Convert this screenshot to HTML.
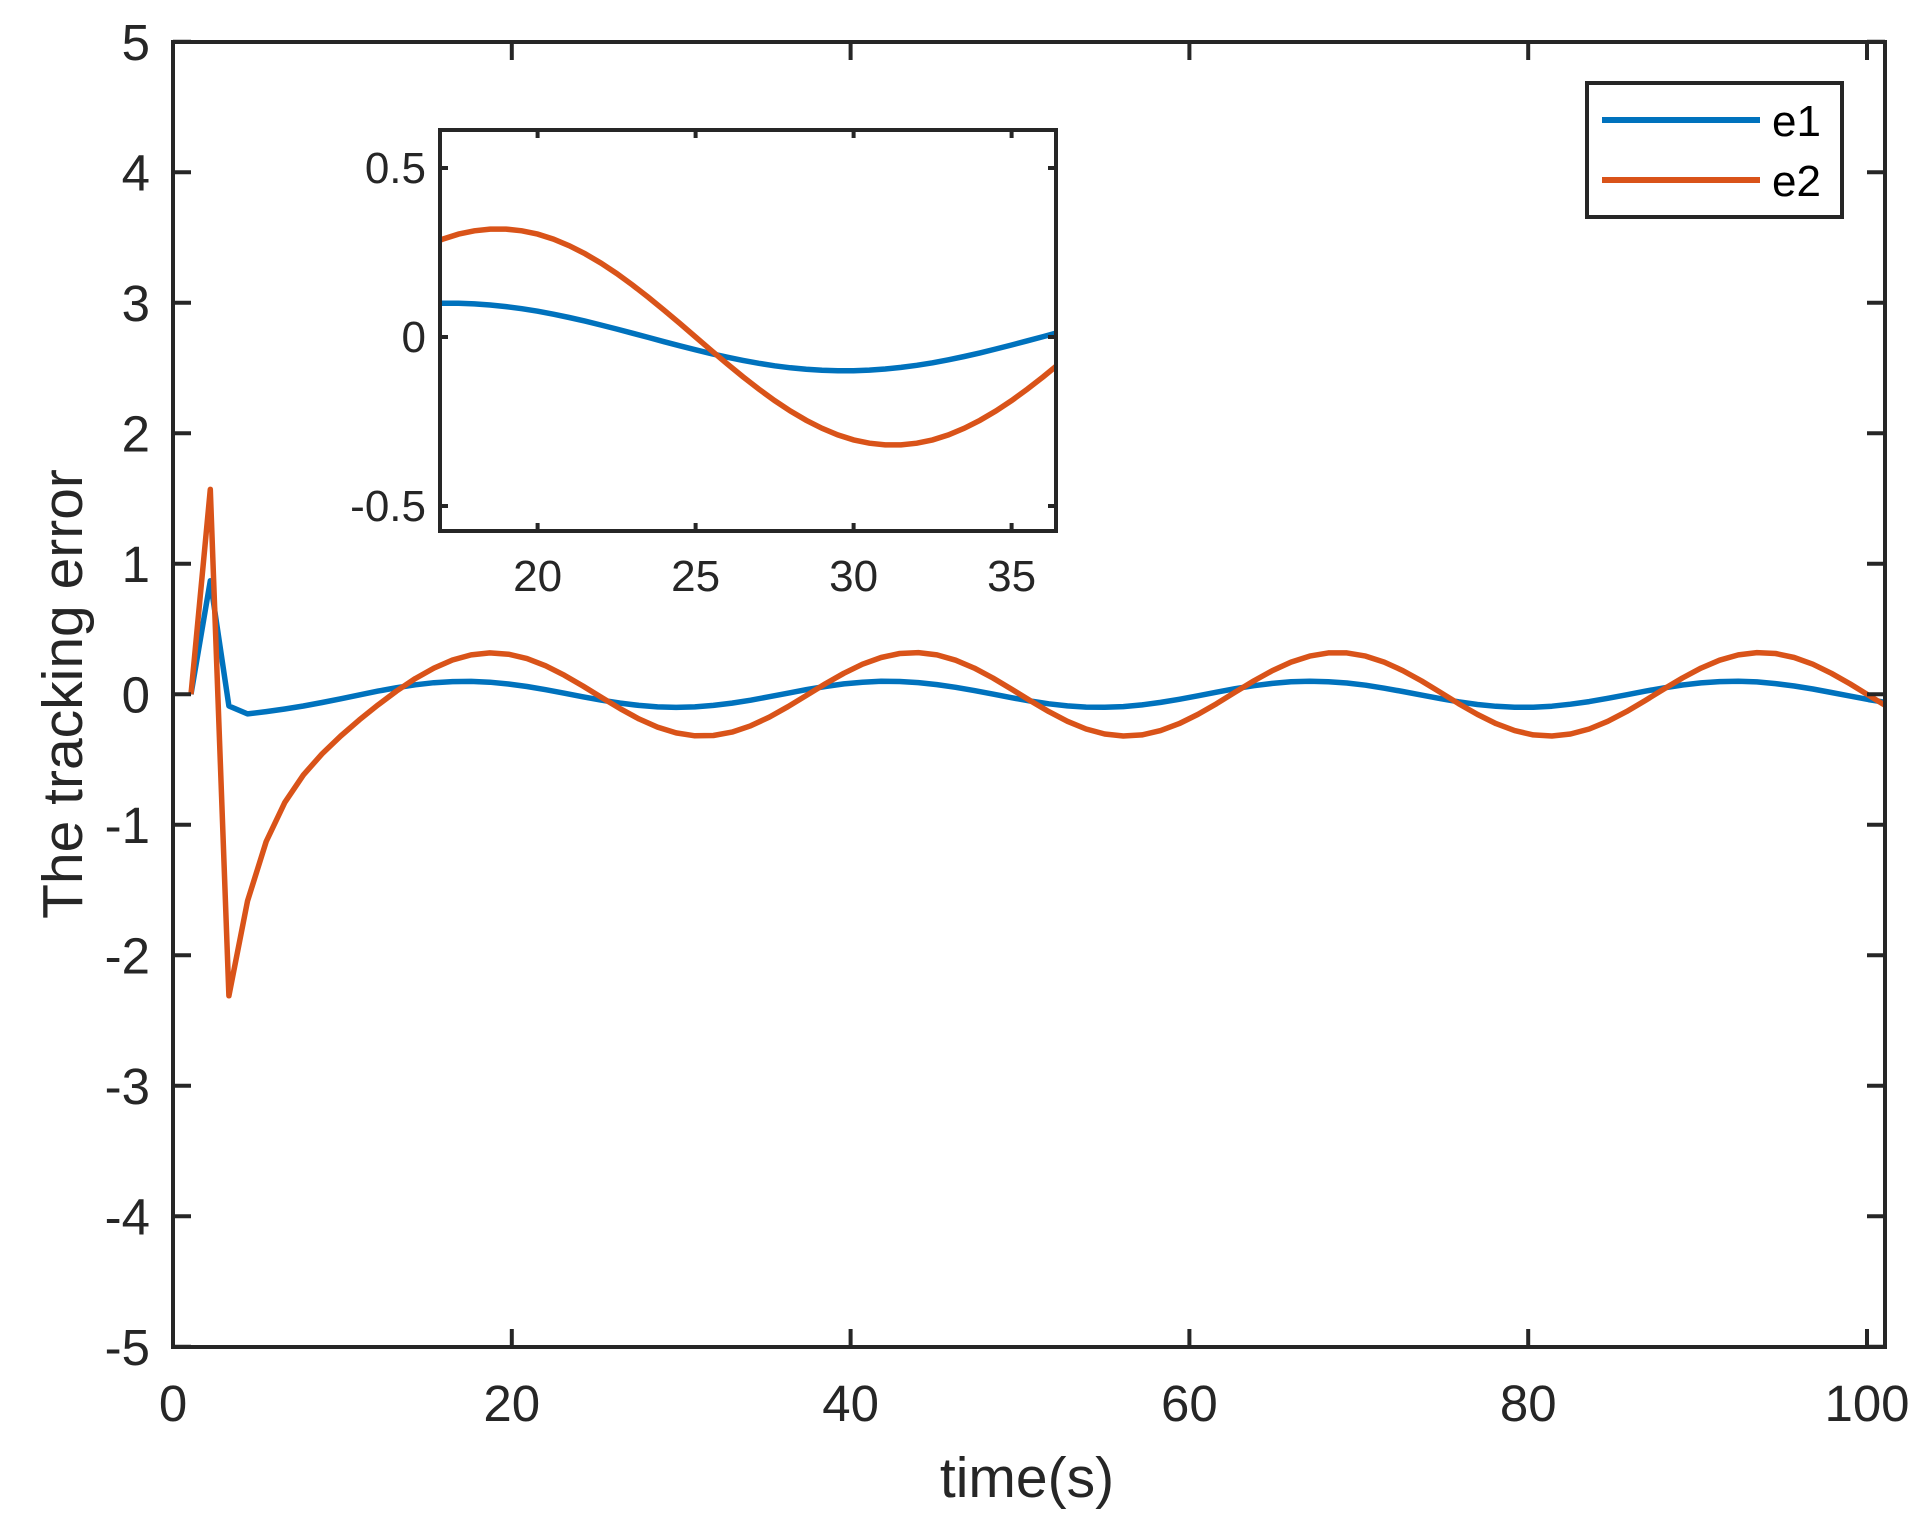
<!DOCTYPE html>
<html><head><meta charset="utf-8"><style>
html,body{margin:0;padding:0;background:#fff;}
svg{display:block;font-family:"Liberation Sans",Arial,sans-serif;}
</style></head><body>
<svg id="s" width="1928" height="1536" viewBox="0 0 1928 1536" xmlns="http://www.w3.org/2000/svg">
<rect width="1928" height="1536" fill="#fff"/>
<defs><clipPath id="mc"><rect x="173" y="42" width="1712" height="1305"/></clipPath>
<clipPath id="ic"><rect x="440" y="130" width="616" height="401"/></clipPath></defs>
</svg>
<script>
var NS="http://www.w3.org/2000/svg",s=document.getElementById('s');
function el(t,a,txt,p){var e=document.createElementNS(NS,t);for(var k in a)e.setAttribute(k,a[k]);if(txt!=null)e.textContent=txt;(p||s).appendChild(e);return e;}
var C="#262626";
function X(t){return 173+16.94*t;} function Y(v){return 694.3-130.5*v;}
function IX(t){return 537.6+31.6*(t-20);} function IY(v){return 337-338*v;}
var P=2*Math.PI/25;
function s1(t){return 0.1*Math.cos(P*(t-17.2));}
function s2(t){return 0.32*Math.cos(P*(t-18.75));}
var e1=[[1.06,0],[2.2,0.87],[3.3,-0.09]],e2=[[1.06,0],[2.2,1.57],[3.3,-2.31]];
for(var t=4.4;t<=101.5;t+=1.1){
 e1.push([t,s1(t)+(-0.15-s1(4.4))*Math.exp(-(t-4.4)/3)]);
 e2.push([t,s2(t)+(-2.31-s2(3.3))*Math.exp(-(t-3.3)/2.35)]);
}
function path(d,fx,fy){return d.map(function(p,i){return (i?'L':'M')+fx(p[0]).toFixed(1)+' '+fy(p[1]).toFixed(1);}).join('');}
var g=el('g',{'clip-path':'url(#mc)'});
el('path',{d:path(e1,X,Y),fill:'none',stroke:'#0072BD','stroke-width':5.5,'stroke-linejoin':'round'},null,g);
el('path',{d:path(e2,X,Y),fill:'none',stroke:'#D95319','stroke-width':5.5,'stroke-linejoin':'round'},null,g);
el('rect',{x:173,y:42,width:1712,height:1305,fill:'none',stroke:C,'stroke-width':4});
for(var v=-5;v<=5;v++){var y=Y(v);
 el('line',{x1:173,y1:y,x2:191,y2:y,stroke:C,'stroke-width':4});
 el('line',{x1:1885,y1:y,x2:1867,y2:y,stroke:C,'stroke-width':4});
 el('text',{x:150,y:y+18,'text-anchor':'end','font-size':51,fill:C},String(v));}
for(var k=0;k<=100;k+=20){var x=X(k);
 el('line',{x1:x,y1:1347,x2:x,y2:1329,stroke:C,'stroke-width':4});
 el('line',{x1:x,y1:42,x2:x,y2:60,stroke:C,'stroke-width':4});
 el('text',{x:x,y:1421,'text-anchor':'middle','font-size':51,fill:C},String(k));}
el('text',{x:1027,y:1497,'text-anchor':'middle','font-size':57,fill:C},'time(s)');
el('text',{x:0,y:0,'text-anchor':'middle','font-size':57,fill:C,transform:'translate(82,694) rotate(-90)'},'The tracking error');
// inset
el('rect',{x:440,y:130,width:616,height:401,fill:'#fff'});
var gi=el('g',{'clip-path':'url(#ic)'});
var i1=[],i2=[];for(var t=16;t<=38;t+=0.5){i1.push([t,s1(t)]);i2.push([t,s2(t)]);}
el('path',{d:path(i1,IX,IY),fill:'none',stroke:'#0072BD','stroke-width':5.5},null,gi);
el('path',{d:path(i2,IX,IY),fill:'none',stroke:'#D95319','stroke-width':5.5},null,gi);
el('rect',{x:440,y:130,width:616,height:401,fill:'none',stroke:C,'stroke-width':4});
[[0.5,'0.5'],[0,'0'],[-0.5,'-0.5']].forEach(function(a){var y=IY(a[0]);
 el('line',{x1:440,y1:y,x2:448,y2:y,stroke:C,'stroke-width':4});
 el('line',{x1:1056,y1:y,x2:1048,y2:y,stroke:C,'stroke-width':4});
 el('text',{x:426,y:y+15,'text-anchor':'end','font-size':44,fill:C},a[1]);});
[20,25,30,35].forEach(function(k){var x=IX(k);
 el('line',{x1:x,y1:531,x2:x,y2:523,stroke:C,'stroke-width':4});
 el('line',{x1:x,y1:130,x2:x,y2:138,stroke:C,'stroke-width':4});
 el('text',{x:x,y:591,'text-anchor':'middle','font-size':44,fill:C},String(k));});
// legend
el('rect',{x:1587,y:83,width:255,height:134,fill:'#fff',stroke:C,'stroke-width':4});
el('line',{x1:1602,y1:120,x2:1760,y2:120,stroke:'#0072BD','stroke-width':6});
el('line',{x1:1602,y1:180,x2:1760,y2:180,stroke:'#D95319','stroke-width':6});
el('text',{x:1772,y:136,'font-size':44,fill:'#000'},'e1');
el('text',{x:1772,y:196,'font-size':44,fill:'#000'},'e2');
</script>
</body></html>
